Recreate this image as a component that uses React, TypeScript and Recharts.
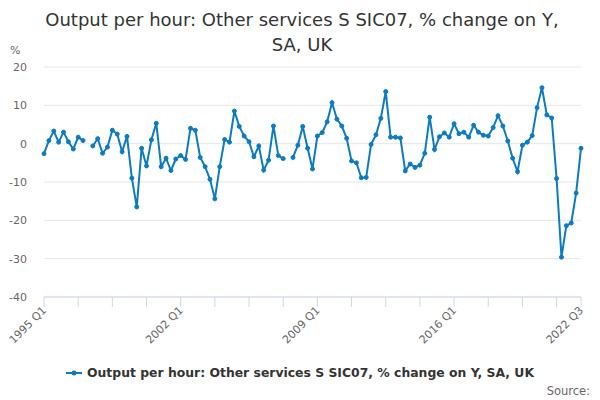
import { LineChart, Line, XAxis, YAxis, CartesianGrid } from "recharts"

// Quarterly, 1995 Q1 to 2022 Q3; null = no value published
const values: (number | null)[] = [
  -2.6, 0.8, 3.3, 0.4, 3.0, 0.5, -1.4, 1.7, 0.8, null,
  -0.6, 1.3, -2.5, -0.9, 3.5, 2.5, -2.1, 1.9, -9.0, -16.5,
  -1.2, -5.8, 1.0, 5.3, -6.0, -3.8, -7.0, -4.0, -3.1, -4.1,
  4.0, 3.5, -3.6, -6.0, -9.3, -14.4, -6.0, 1.1, 0.4, 8.5,
  4.5, 2.0, 0.5, -3.4, -0.6, -6.9, -4.3, 4.6, -3.1, -3.9,
  null, -3.6, -0.4, 4.5, -1.2, -6.6, 2.0, 2.9, 5.7, 10.7,
  6.4, 4.6, 1.4, -4.5, -5.0, -8.9, -8.8, -0.2, 2.3, 6.6,
  13.6, 1.7, 1.7, 1.5, -7.1, -5.3, -6.2, -5.6, -2.5, 6.9,
  -1.5, 1.8, 2.8, 1.7, 5.2, 2.6, 3.0, 1.7, 4.8, 3.0,
  2.2, 2.0, 4.2, 7.3, 4.6, 0.7, -3.8, -7.3, -0.4, 0.4,
  2.1, 9.4, 14.6, 7.5, 6.7, -9.1, -29.6, -21.4, -20.7, -12.9,
  -1.2,
]

const startYear = 1995
const quarters = values.map((_, i) => `${startYear + Math.floor(i / 4)} Q${(i % 4) + 1}`)

const labelledQuarters = ["1995 Q1", "2002 Q1", "2009 Q1", "2016 Q1", "2022 Q3"]
const yTicks = [-40, -30, -20, -10, 0, 10, 20]

const seriesName = "Output per hour: Other services S SIC07, % change on Y, SA, UK"
const title = "Output per hour: Other services S SIC07, % change on Y, SA, UK"

const data = values.map((v, i) => ({ i, quarter: quarters[i], value: v }))

// minor tick every 7 quarters, plus the last quarter
const xTicks = [...quarters.map((_, i) => i).filter((i) => i % 7 === 0), quarters.length - 1]

const font = "'DejaVu Sans', sans-serif"
const lineColor = "#0c7bc0"

const XTick = (props: any) => {
  const { x, y, payload } = props
  const label = quarters[payload.value]
  if (!labelledQuarters.includes(label)) return null
  return (
    <g transform={`translate(${x + 3},${y + 2})`}>
      <text textAnchor="end" fill="#666" fontSize={11} fontFamily={font} transform="rotate(-45)">
        {label}
      </text>
    </g>
  )
}

export default function App() {
  return (
    <div style={{ position: "absolute", left: 0, top: 0, width: 600, height: 400, background: "#fff", fontFamily: font }}>
      <div
        style={{
          position: "absolute",
          left: 40,
          width: 524,
          top: 7,
          textAlign: "center",
          fontSize: 18,
          lineHeight: "25px",
          color: "#333",
        }}
      >
        {title}
      </div>
      <div style={{ position: "absolute", left: 10, top: 44, fontSize: 11, color: "#666" }}>%</div>
      <LineChart width={600} height={400} data={data} margin={{ top: 67, right: 19, bottom: 63, left: 0 }}>
        <CartesianGrid vertical={false} stroke="#e6e6e6" />
        <XAxis
          type="number"
          dataKey="i"
          domain={[0, quarters.length - 1]}
          ticks={xTicks}
          interval={0}
          height={40}
          stroke="#ccd6eb"
          tickSize={10}
          tick={<XTick />}
        />
        <YAxis
          domain={[-40, 20]}
          ticks={yTicks}
          width={44}
          axisLine={false}
          tickLine={false}
          tickSize={0}
          tickMargin={17}
          tick={{ fill: "#666", fontSize: 11, fontFamily: font }}
        />
        <Line
          type="linear"
          dataKey="value"
          stroke={lineColor}
          strokeWidth={2}
          dot={{ r: 2, fill: lineColor, stroke: lineColor, strokeWidth: 1 }}
          connectNulls={false}
          isAnimationActive={false}
        />
      </LineChart>
      <div
        style={{
          position: "absolute",
          top: 365,
          left: 0,
          width: 600,
          display: "flex",
          justifyContent: "center",
          alignItems: "center",
          fontSize: 12.4,
          fontWeight: "bold",
          color: "#333",
        }}
      >
        <svg width={16} height={10} style={{ marginRight: 5 }}>
          <line x1={0} y1={5} x2={16} y2={5} stroke={lineColor} strokeWidth={2} />
          <circle cx={8} cy={5} r={2.5} fill={lineColor} />
        </svg>
        {seriesName}
      </div>
      <div style={{ position: "absolute", right: 10, top: 384, fontSize: 11.5, color: "#666" }}>Source:</div>
    </div>
  )
}
